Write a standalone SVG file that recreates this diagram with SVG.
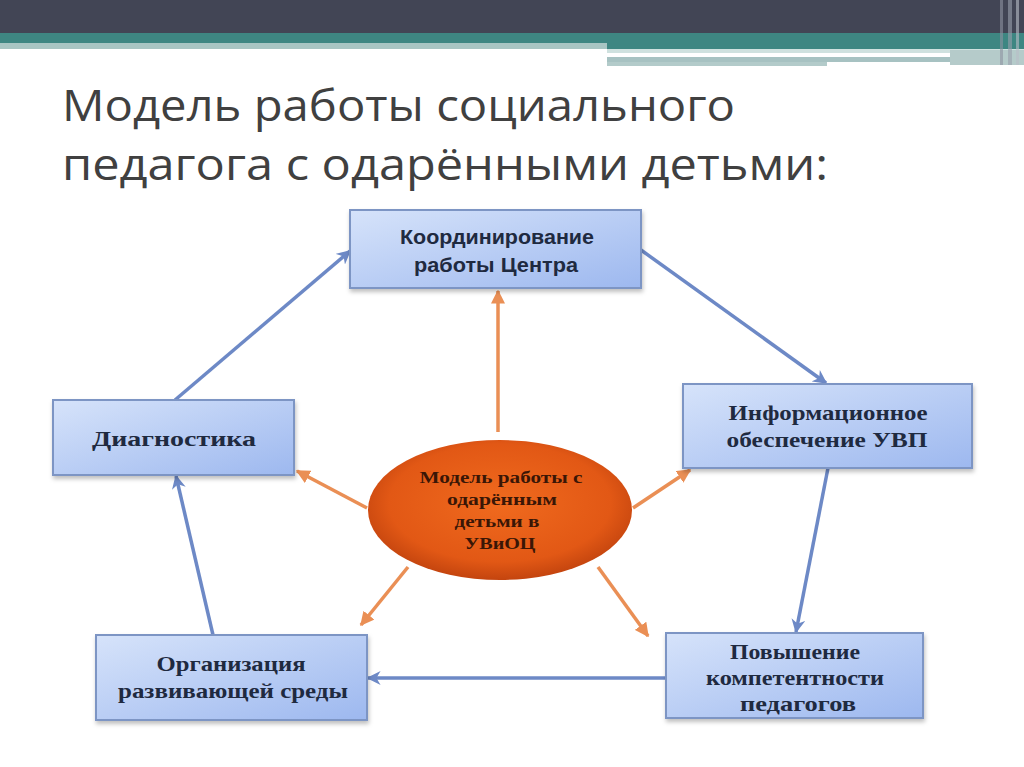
<svg xmlns="http://www.w3.org/2000/svg" width="1024" height="767" viewBox="0 0 1024 767">
<defs>
<linearGradient id="boxg" x1="0" y1="0" x2="1" y2="1">
<stop offset="0" stop-color="#d6e3fa"/>
<stop offset="1" stop-color="#9db8ef"/>
</linearGradient>
<radialGradient id="ellg" cx="0.5" cy="0.45" r="0.6">
<stop offset="0" stop-color="#f06a1e"/>
<stop offset="0.7" stop-color="#e25815"/>
<stop offset="1" stop-color="#b83d0c"/>
</radialGradient>
<marker id="ab" viewBox="0 0 10 10" refX="9" refY="5" markerWidth="4" markerHeight="4" orient="auto" markerUnits="strokeWidth">
<path d="M0,0 L10,5 L0,10 L3,5 Z" fill="#6d89c6"/>
</marker>
<marker id="ao" viewBox="0 0 10 10" refX="9" refY="5" markerWidth="4" markerHeight="4" orient="auto" markerUnits="strokeWidth">
<path d="M0,0 L10,5 L0,10 Z" fill="#ea8f55"/>
</marker>
<filter id="sh" x="-5%" y="-5%" width="115%" height="125%">
<feDropShadow dx="1" dy="3" stdDeviation="2" flood-color="#000" flood-opacity="0.25"/>
</filter>
</defs>
<style>
.box{fill:url(#boxg);stroke:#7d95c4;stroke-width:2;filter:url(#sh)}
.ts{font-family:"Liberation Sans",Arial,sans-serif;font-size:20px;font-weight:bold;fill:#1f2a40;text-anchor:middle}
.tr{font-family:"Liberation Serif","Times New Roman",serif;font-size:21px;font-weight:bold;fill:#1f2a40;text-anchor:middle}
.te{font-family:"Liberation Serif","Times New Roman",serif;font-size:16px;font-weight:bold;fill:#3a1606;text-anchor:middle}
.bl{stroke:#6d89c6;stroke-width:3.5;fill:none;marker-end:url(#ab)}
.or{stroke:#ea8f55;stroke-width:3.5;fill:none;marker-end:url(#ao)}
.title{font-family:"Open Sans","Liberation Sans",sans-serif;font-size:44px;fill:#404040}
</style>
<rect width="1024" height="767" fill="#ffffff"/>
<g id="header">
<rect x="0" y="0" width="1024" height="33" fill="#424555"/>
<rect x="0" y="33" width="1024" height="10" fill="#3e8682"/>
<rect x="0" y="43" width="607" height="6" fill="#a8c5c3"/>
<rect x="607" y="43" width="417" height="6" fill="#3e8682"/>
<rect x="607" y="49" width="417" height="4" fill="#cfe1df"/>
<rect x="607" y="57" width="343" height="5" fill="#a7c2c2"/>
<rect x="607" y="62" width="220" height="4" fill="#b3cbca"/>
<rect x="950" y="50" width="74" height="15" fill="#b5cbca"/>
<rect x="1000" y="0" width="3" height="65" fill="#8e93a0" opacity="0.6"/>
<rect x="1008" y="0" width="4" height="65" fill="#9aa0ab" opacity="0.6"/>
<rect x="1016" y="0" width="3" height="65" fill="#b9bec6" opacity="0.6"/>
</g>
<g id="title">
<text class="title" x="62" y="121" textLength="673" lengthAdjust="spacingAndGlyphs">Модель работы социального</text>
<text class="title" x="62" y="180" textLength="766" lengthAdjust="spacingAndGlyphs">педагога с одарёнными детьми:</text>
</g>
<g id="connectors">
<line class="bl" x1="175" y1="400" x2="350" y2="251"/>
<line class="bl" x1="641" y1="250" x2="826" y2="383"/>
<line class="bl" x1="828" y1="468" x2="796" y2="632"/>
<line class="bl" x1="666" y1="678" x2="368" y2="678"/>
<line class="bl" x1="213" y1="635" x2="176" y2="476"/>
<line class="or" x1="498" y1="432" x2="498" y2="291"/>
<line class="or" x1="367" y1="508" x2="297" y2="471"/>
<line class="or" x1="633" y1="508" x2="690" y2="470"/>
<line class="or" x1="408" y1="567" x2="361" y2="625"/>
<line class="or" x1="598" y1="567" x2="648" y2="636"/>
</g>
<g id="n-coord">
<rect class="box" x="350" y="210" width="291" height="78"/>
<text class="ts" x="497" y="244" textLength="194" lengthAdjust="spacingAndGlyphs">Координирование</text>
<text class="ts" x="496" y="272" textLength="164" lengthAdjust="spacingAndGlyphs">работы Центра</text>
</g>
<g id="n-diag">
<rect class="box" x="53" y="400" width="241" height="75"/>
<text class="tr" x="174" y="446" textLength="164" lengthAdjust="spacingAndGlyphs">Диагностика</text>
</g>
<g id="n-info">
<rect class="box" x="683" y="384" width="289" height="84"/>
<text class="tr" x="828" y="420" textLength="199" lengthAdjust="spacingAndGlyphs">Информационное</text>
<text class="tr" x="827" y="447" textLength="201" lengthAdjust="spacingAndGlyphs">обеспечение УВП</text>
</g>
<g id="n-org">
<rect class="box" x="96" y="635" width="271" height="85"/>
<text class="tr" x="231" y="671" textLength="149" lengthAdjust="spacingAndGlyphs">Организация</text>
<text class="tr" x="233" y="698" textLength="230" lengthAdjust="spacingAndGlyphs">развивающей среды</text>
</g>
<g id="n-comp">
<rect class="box" x="666" y="633" width="257" height="85"/>
<text class="tr" x="795" y="659" textLength="130" lengthAdjust="spacingAndGlyphs">Повышение</text>
<text class="tr" x="795" y="685" textLength="178" lengthAdjust="spacingAndGlyphs">компетентности</text>
<text class="tr" x="798" y="711" textLength="116" lengthAdjust="spacingAndGlyphs">педагогов</text>
</g>
<g id="n-center">
<ellipse cx="500" cy="510" rx="132" ry="70" fill="url(#ellg)"/>
<text class="te" x="501" y="483" textLength="163" lengthAdjust="spacingAndGlyphs">Модель работы с</text>
<text class="te" x="502" y="505" textLength="110" lengthAdjust="spacingAndGlyphs">одарённым</text>
<text class="te" x="497" y="527" textLength="85" lengthAdjust="spacingAndGlyphs">детьми в</text>
<text class="te" x="500" y="549" textLength="71" lengthAdjust="spacingAndGlyphs">УВиОЦ</text>
</g>
</svg>
